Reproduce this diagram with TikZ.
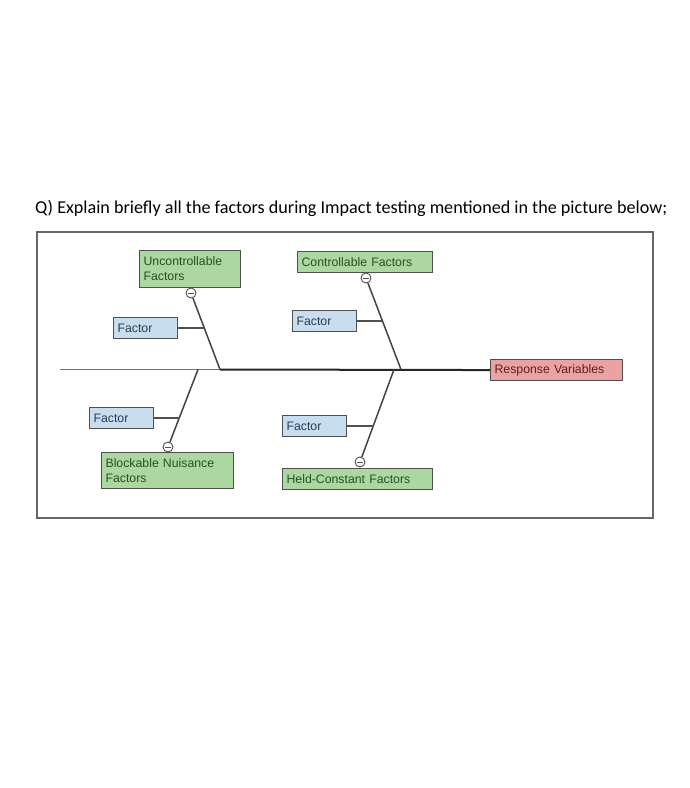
\documentclass[tikz,border=0pt]{standalone}
\usepackage{fontspec}
\usetikzlibrary{calc}
\newfontfamily\titlefont{Carlito}
\newfontfamily\boxfont{Liberation Sans}
\definecolor{gfill}{RGB}{170,216,160}
\definecolor{bfill}{RGB}{200,222,238}
\definecolor{rfill}{RGB}{234,162,162}
\definecolor{gtext}{RGB}{40,80,40}
\definecolor{btext}{RGB}{40,60,90}
\definecolor{rtext}{RGB}{100,30,30}
\definecolor{edge}{RGB}{80,80,80}
\begin{document}
\begin{tikzpicture}[x=1pt,y=-1pt,
  box/.style={draw=edge, line width=1.1pt, inner xsep=4pt, inner ysep=0pt, anchor=north west, align=left,
    font=\boxfont\fontsize{12.3}{15}\selectfont},
  gbox/.style={box, fill=gfill, text=gtext},
  fbox/.style={box, fill=bfill, text=btext, text width=56pt, minimum height=21pt},
  rbox/.style={box, fill=rfill, text=rtext},
  knob/.style={circle, draw=edge, fill=white, line width=0.9pt, minimum size=10pt, inner sep=0pt,
    path picture={\draw[edge, line width=0.9pt] ([xshift=-2.6pt]path picture bounding box.center) -- ([xshift=2.6pt]path picture bounding box.center);}},
  bone/.style={draw=edge!85!black, line width=1.5pt},
  tick/.style={draw=edge, line width=1.2pt}]
\useasboundingbox (0,0) rectangle (689,788);
\fill[white] (0,0) rectangle (689,788);
% title
\node[anchor=base west, inner sep=0pt] (title) at (35,213)
  {\resizebox{632pt}{!}{\titlefont Q) Explain briefly all the factors during Impact testing mentioned in the picture below;}};
% frame
\draw[draw=black!60, line width=1.2pt] (37,232) rectangle (653,518);
% boxes
\node[gbox, text width=93pt, minimum height=37pt] (unc) at (139,250) {Uncontrollable\\Factors};
\node[gbox, text width=127pt, minimum height=21pt] (con) at (297,251) {Controllable Factors};
\node[gbox, text width=124pt, minimum height=36pt] (blk) at (101,452) {Blockable Nuisance\\Factors};
\node[gbox, text width=142pt, minimum height=21pt] (held) at (282,468) {Held-Constant Factors};
\node[fbox] (f1) at (113,317) {Factor};
\node[fbox] (f2) at (292,310) {Factor};
\node[fbox] (f3) at (89,407) {Factor};
\node[fbox] (f4) at (282,415) {Factor};
\node[rbox, text width=124pt, minimum height=21pt] (rv) at (490,359) {Response Variables};
% knobs
\node[knob] (k1) at (191,293) {};
\node[knob] (k2) at (366,278) {};
\node[knob] (k3) at (168,447) {};
\node[knob] (k4) at (360,462) {};
% spine points
\coordinate (s0) at (60,369.5);
\coordinate (s1) at (220,369.5);
\coordinate (s2) at (401,369.5);
\coordinate (s3) at (198,369.5);
\coordinate (s4) at (394,369.5);
% spine
\draw[draw=black!55, line width=1.1pt] (s0) -- (s1);
\draw[draw=black!85, line width=2pt] (s1) -- (rv.west);
% bones
\draw[bone] (k1) -- (s1);
\draw[bone] (k2) -- (s2);
\draw[bone] (k3) -- (s3);
\draw[bone] (k4) -- (s4);
% junctions on bones
\coordinate (j1) at ($(k1)!0.46!(s1)$);
\coordinate (j2) at ($(k2)!0.46!(s2)$);
\coordinate (j3) at ($(s3)!0.615!(k3)$);
\coordinate (j4) at ($(s4)!0.59!(k4)$);
\draw[tick] (f1.east) -- (j1 |- f1.east);
\draw[tick] (f2.east) -- (j2 |- f2.east);
\draw[tick] (f3.east) -- (j3 |- f3.east);
\draw[tick] (f4.east) -- (j4 |- f4.east);
\end{tikzpicture}
\end{document}
